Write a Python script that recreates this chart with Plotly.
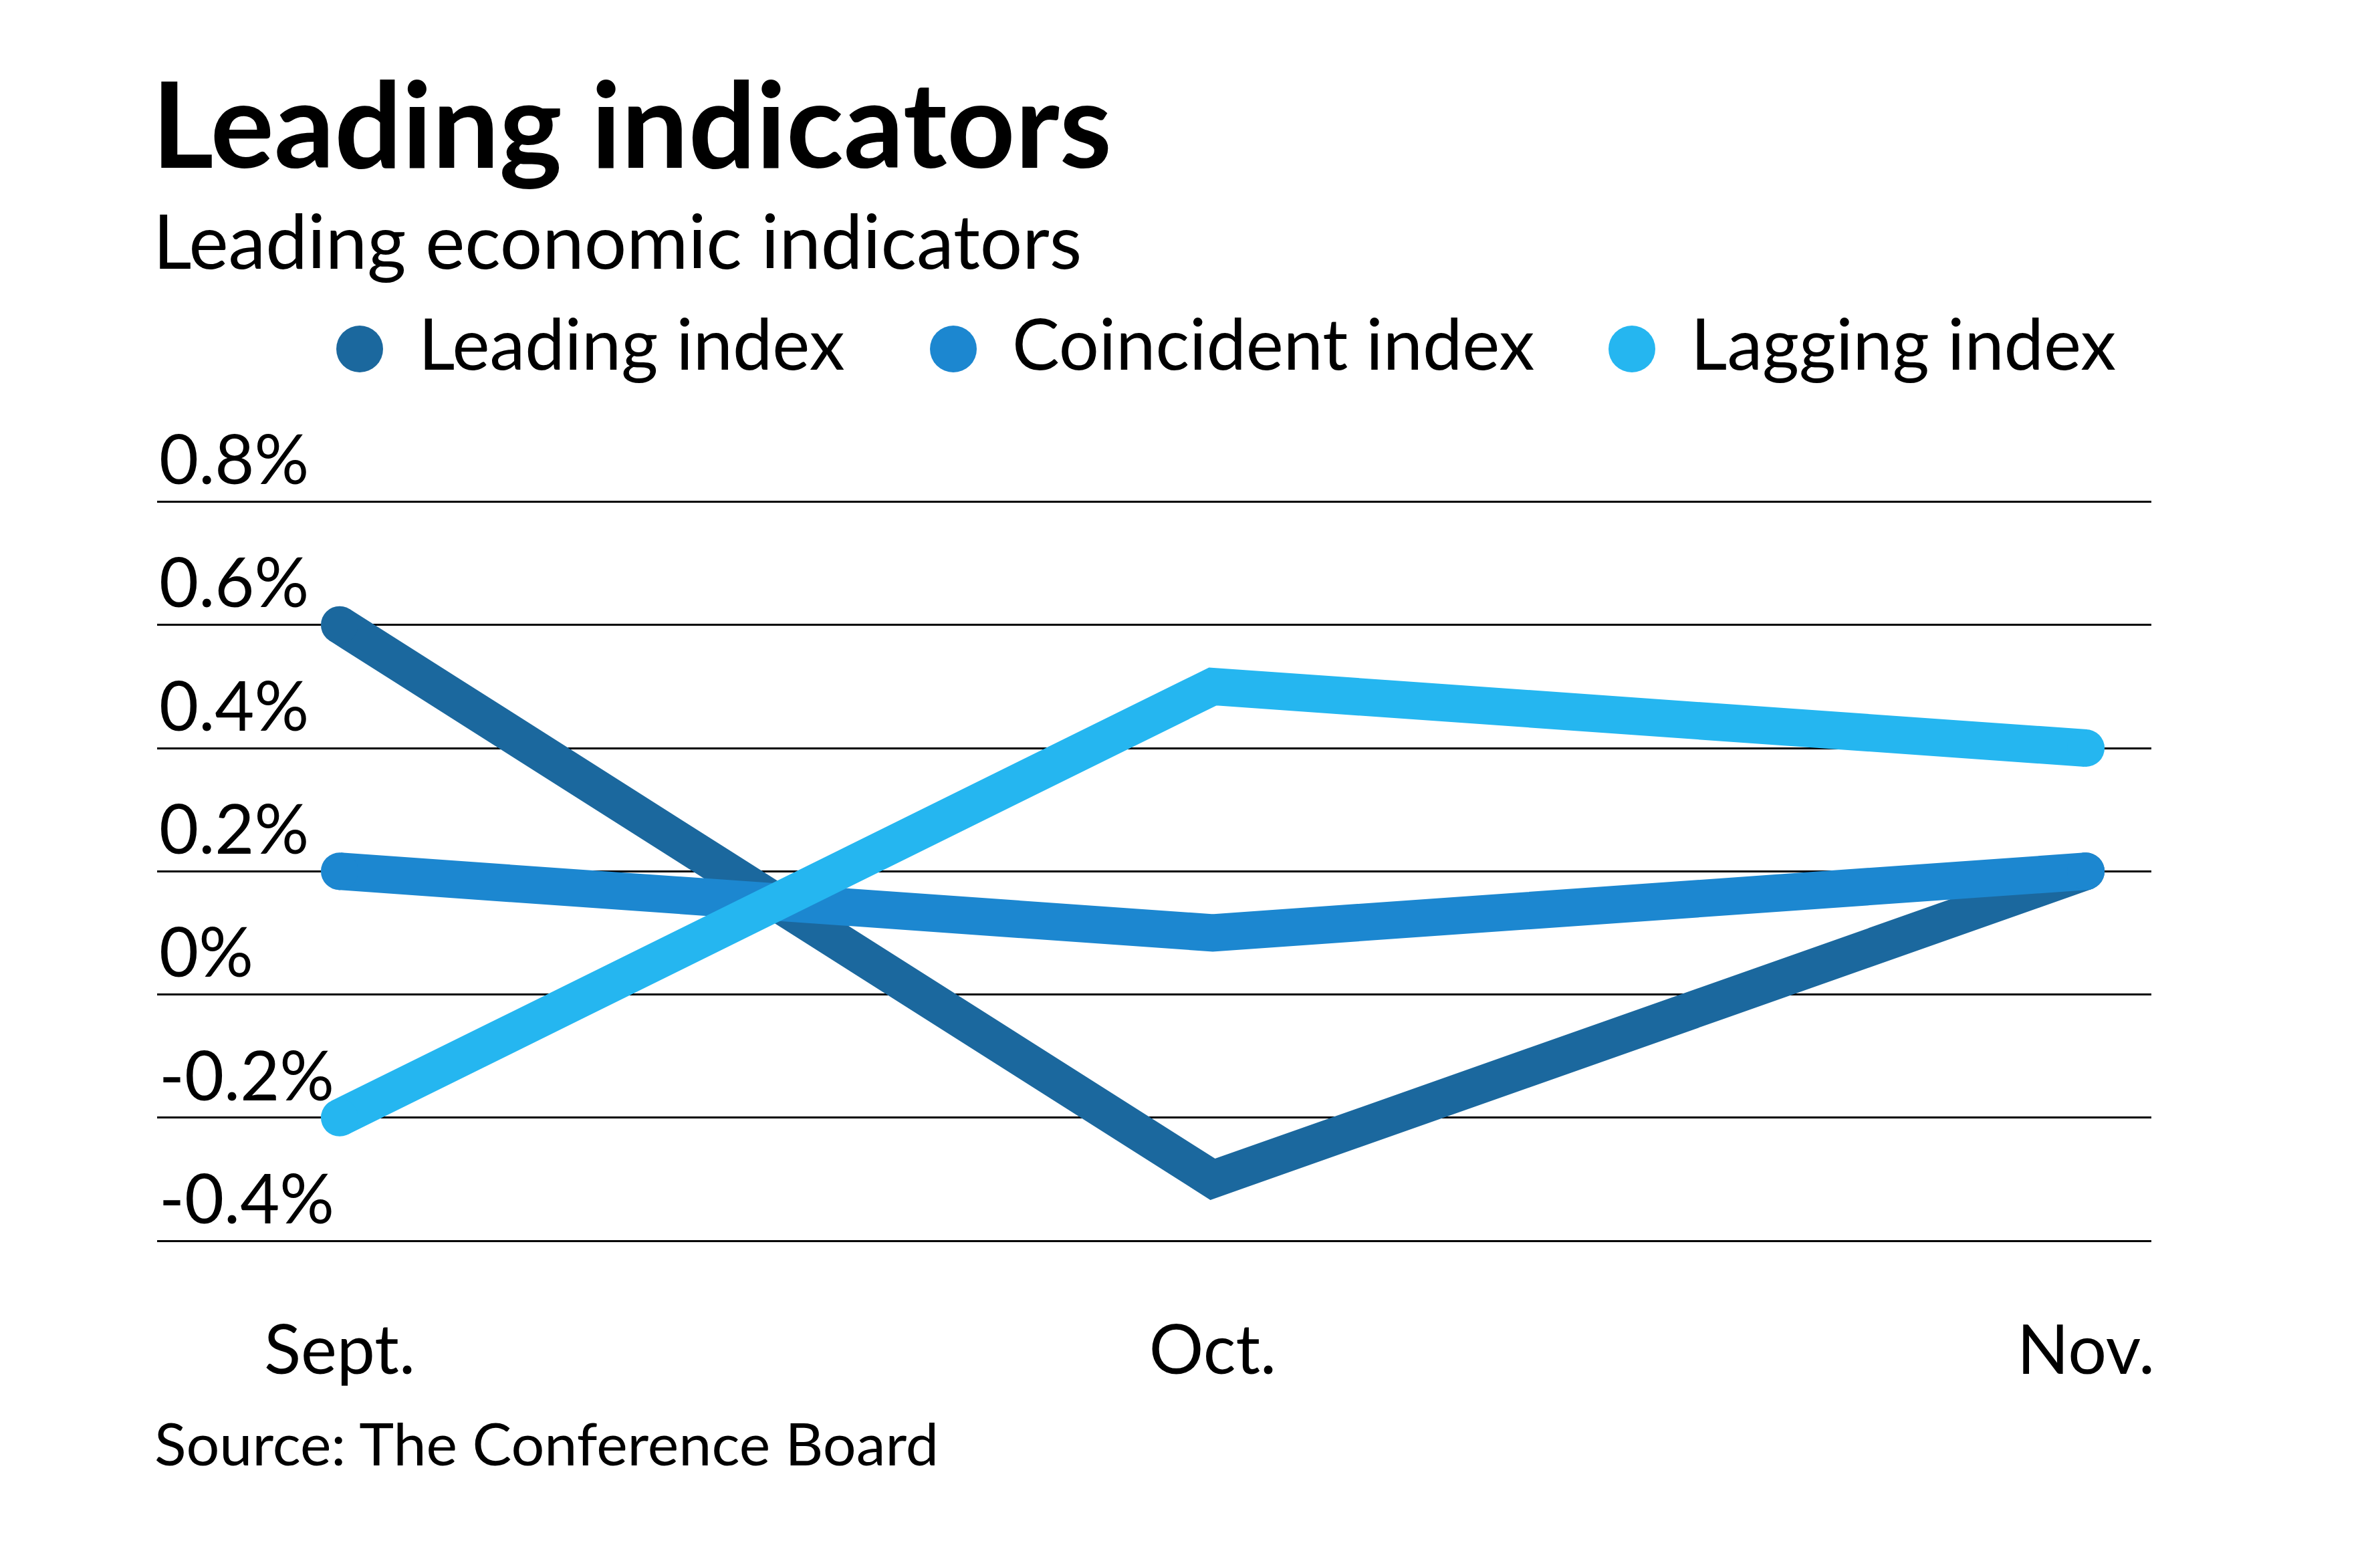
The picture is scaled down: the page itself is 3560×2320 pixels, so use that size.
import plotly.graph_objects as go

# data
months = ["Sept.", "Oct.", "Nov."]
leading = [0.6, -0.3, 0.2]
coincident = [0.2, 0.1, 0.2]
lagging = [-0.2, 0.5, 0.4]
series_names = ["Leading index", "Coincident index", "Lagging index"]
series_colors = ["#1B689E", "#1C87D0", "#25B6F0"]
y_ticks = [-0.4, -0.2, 0, 0.2, 0.4, 0.6, 0.8]
y_tick_labels = ["-0.4%", "-0.2%", "0%", "0.2%", "0.4%", "0.6%", "0.8%"]

W, H = 3560, 2320
PL, PR = 227, 3210
Y_TOP, Y_BOT = 742, 1848          # pixel rows of the 0.8% and -0.4% gridlines
PX_PER_UNIT = (Y_BOT - Y_TOP) / 1.2
Y_RANGE = [-0.44, 0.96]           # padded so the edge gridlines and labels show
PT = round(Y_TOP - (Y_RANGE[1] - 0.8) * PX_PER_UNIT)
PB = round(Y_BOT + (-0.4 - Y_RANGE[0]) * PX_PER_UNIT)
FONT = "Lato"


def px_x(x):
    return (x - PL) / (PR - PL)


def px_y(y):
    return (PB - y) / (PB - PT)


fig = go.Figure()

LW = 56
for name, vals, col in zip(series_names, [leading, coincident, lagging], series_colors):
    fig.add_trace(go.Scatter(
        x=months, y=vals, name=name, mode="lines+markers",
        line=dict(color=col, width=LW),
        marker=dict(color=col, size=[LW, 0, LW], opacity=1, line=dict(width=0)),
        showlegend=False, hoverinfo="x+y+name",
    ))

# titles
fig.add_annotation(text="<b>Leading indicators</b>", xref="paper", yref="paper",
                   x=px_x(PL - 10), y=px_y(174), xanchor="left", yanchor="middle",
                   showarrow=False, font=dict(family=FONT, size=178, color="#000"))
fig.add_annotation(text="Leading economic indicators", xref="paper", yref="paper",
                   x=px_x(PL - 8), y=px_y(350), xanchor="left", yanchor="middle",
                   showarrow=False, font=dict(family=FONT, size=112, color="#000"))
fig.add_annotation(text="Source: The Conference Board", xref="paper", yref="paper",
                   x=px_x(PL - 6), y=px_y(2150), xanchor="left", yanchor="middle",
                   showarrow=False, font=dict(family=FONT, size=88, color="#000"))

# hand-built legend (plotly caps legend marker size)
legend_cx = [530, 1418, 2433]
legend_cy = 514
R = 35
for cx, name, col in zip(legend_cx, series_names, series_colors):
    fig.add_shape(type="circle", xref="paper", yref="paper",
                  x0=px_x(cx - R), x1=px_x(cx + R), y0=px_y(legend_cy + R), y1=px_y(legend_cy - R),
                  fillcolor=col, line=dict(width=0))
    fig.add_annotation(text=name, xref="paper", yref="paper",
                       x=px_x(cx + 86), y=px_y(legend_cy - 10), xanchor="left", yanchor="middle",
                       showarrow=False, font=dict(family=FONT, size=106, color="#000"))

fig.update_layout(
    width=W, height=H,
    margin=dict(l=PL, r=W - PR, t=PT, b=H - PB),
    paper_bgcolor="white", plot_bgcolor="rgba(0,0,0,0)",
    font=dict(family=FONT, color="#000"),
    showlegend=False,
    xaxis=dict(
        type="category", range=[-0.209, 2.075],
        showgrid=False, showline=False, zeroline=False, ticks="",
        tickfont=dict(family=FONT, size=102, color="#000"),
        ticklabelstandoff=int(96 - (PB - Y_BOT)),
    ),
    yaxis=dict(
        range=Y_RANGE, tickvals=y_ticks, ticktext=y_tick_labels,
        showgrid=True, gridcolor="#000", gridwidth=3,
        zeroline=False, showline=False, ticks="",
        ticklabelposition="inside", ticklabelshift=-62, ticklabelstandoff=0,
        tickfont=dict(family=FONT, size=102, color="#000"),
    ),
)

fig.write_html("out.html")
